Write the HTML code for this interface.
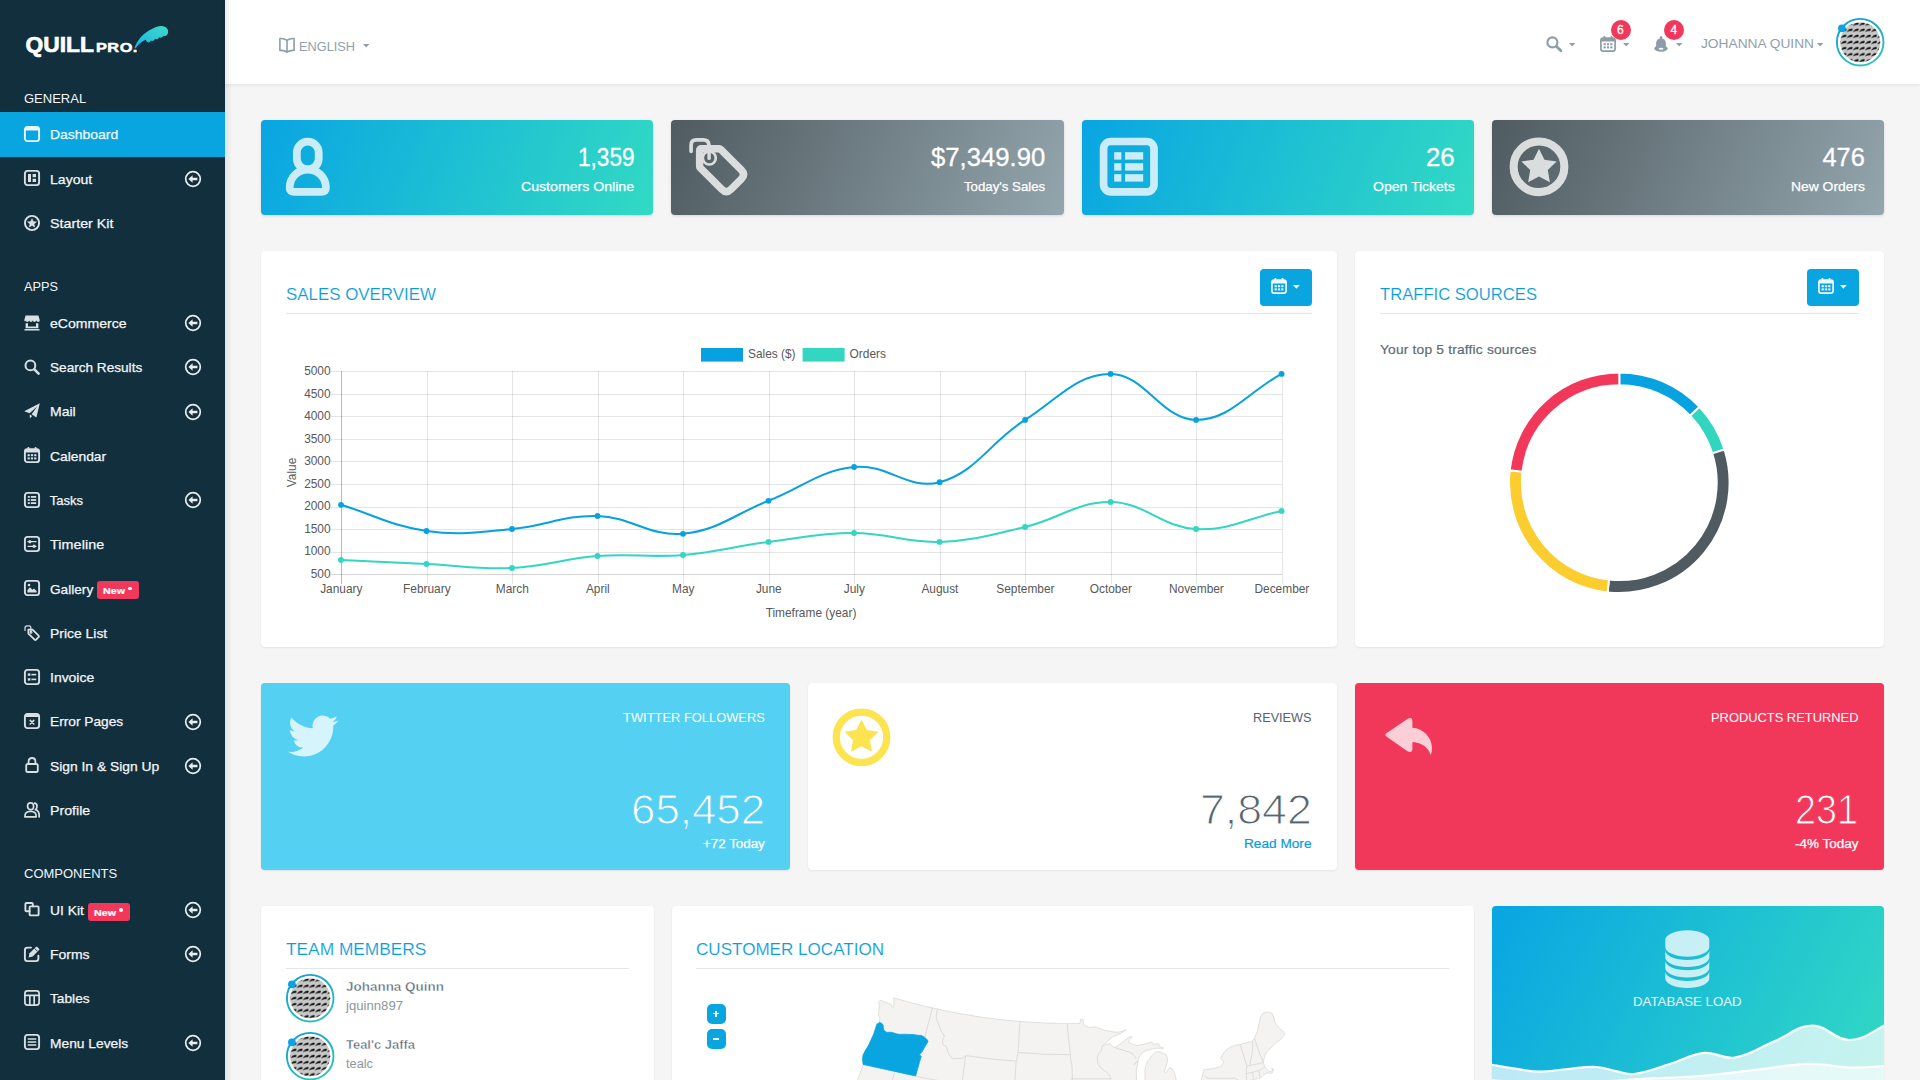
<!DOCTYPE html>
<html lang="en"><head><meta charset="utf-8"><title>QuillPro Dashboard</title>
<style>
html,body{margin:0;padding:0;}
body{width:1920px;height:1080px;overflow:hidden;position:relative;background:#f5f5f5;
font-family:"Liberation Sans",sans-serif;}
#root{position:absolute;left:0;top:0;width:1920px;height:1080px;overflow:hidden;}
.t{position:absolute;white-space:nowrap;transform-origin:0 50%;}
svg{display:block;overflow:visible;}
svg text{font-family:"Liberation Sans",sans-serif;}
</style></head><body><div id="root">
<div class="" style="position:absolute;left:0px;top:0px;width:225px;height:1080px;background:#122f3e;"></div>
<div class="t" style="left:25.6px;top:27px;font-size:22.8px;line-height:34px;color:#fff;font-weight:700;-webkit-text-stroke-width:0.7px;">QUILL</div>
<div class="t" style="left: 95.6px; top: 38px; font-size: 13.4px; line-height: 20px; color: rgb(255, 255, 255); font-weight: 700; -webkit-text-stroke-width: 0.5px; letter-spacing: 0.39px; transform: scaleX(1.22);">PRO.</div>
<svg style="position:absolute;left:133px;top:24px;" width="38" height="30" viewBox="0 0 38 30"><defs><linearGradient id="fg" x1="0" y1="1" x2="1" y2="0"><stop offset="0" stop-color="#1cb2e4"></stop><stop offset="1" stop-color="#3cdcc8"></stop></linearGradient></defs><path fill="url(#fg)" d="M1.6 23.9C3.5 17.5 9 10.5 16 6.5C21 3.6 26 1.6 30 2.2C34.5 2.8 36.2 7 34.6 10C33.8 11.8 32 12.6 30.2 11.8C29.8 13.4 27.6 14.2 26.2 13.2C25.6 15 23.4 15.8 22 14.8C21.4 16.8 19.2 17.6 17.8 16.6C17.2 18.4 15.4 19 13.8 17.8C13.2 17 13 16.4 13 15.6C8.6 17.6 5 20.4 2.6 24.4Z"></path></svg>
<div class="t" style="left:24.0px;top:89px;font-size:13px;line-height:20px;color:#f2f5f6;font-weight:400;">GENERAL</div>
<div class="t" style="left: 24px; top: 277px; font-size: 13px; line-height: 20px; color: rgb(242, 245, 246); font-weight: 400; transform: scaleX(0.98);">APPS</div>
<div class="t" style="left:24.0px;top:864px;font-size:13px;line-height:20px;color:#f2f5f6;font-weight:400;">COMPONENTS</div>
<div class="" style="position:absolute;left:0px;top:112.4px;width:225px;height:44.900000000000006px;background:#09a5e1;"></div>
<svg style="position:absolute;left:22.8px;top:125.1px;" width="18" height="18" viewBox="0 0 18 18"><g fill="none" stroke="#eaf7fd" stroke-width="1.9" stroke-linejoin="round"><rect x="1.9" y="1.9" width="14.2" height="14.2" rx="2.6"></rect></g><path d="M1.9 5.4V4.5Q1.9 1.9 4.5 1.9H13.5Q16.1 1.9 16.1 4.5V5.4Z" fill="#eaf7fd"></path></svg>
<div class="t" style="left: 49.8px; top: 125px; font-size: 13px; line-height: 20px; color: rgb(242, 245, 246); font-weight: 400; -webkit-text-stroke-width: 0.25px; transform: scaleX(1.072);">Dashboard</div>
<svg style="position:absolute;left:22.8px;top:169.3px;" width="18" height="18" viewBox="0 0 18 18"><g fill="none" stroke="#d9e0e4" stroke-width="1.9" stroke-linecap="round" stroke-linejoin="round"><rect x="1.9" y="1.9" width="14.2" height="14.2" rx="2.6"></rect></g><g fill="#d9e0e4" stroke="none"><rect x="5" y="5" width="3" height="8"></rect><rect x="9.6" y="5" width="3.4" height="3.2"></rect><rect x="9.6" y="9.8" width="3.4" height="3.2"></rect></g></svg>
<div class="t" style="left: 49.8px; top: 170px; font-size: 13px; line-height: 20px; color: rgb(242, 245, 246); font-weight: 400; -webkit-text-stroke-width: 0.25px; transform: scaleX(1.081);">Layout</div>
<svg style="position:absolute;left:183.8px;top:169.9px;" width="18" height="18" viewBox="0 0 18 18"><circle cx="9" cy="9" r="7.3" fill="none" stroke="#e8edef" stroke-width="1.7"></circle><path d="M4.4 9L8.6 5.2V7.7H13.4V10.3H8.6V12.8Z" fill="#e8edef"></path></svg>
<svg style="position:absolute;left:22.8px;top:213.6px;" width="18" height="18" viewBox="0 0 18 18"><g fill="none" stroke="#d9e0e4" stroke-width="1.9" stroke-linecap="round" stroke-linejoin="round"><circle cx="9" cy="9" r="7.1"></circle></g><path d="M9.00 4.70L10.23 7.60L13.37 7.88L11.00 9.95L11.70 13.02L9.00 11.40L6.30 13.02L7.00 9.95L4.63 7.88L7.77 7.60Z" fill="#d9e0e4" stroke="#d9e0e4" stroke-width="0.6" stroke-linejoin="round"></path></svg>
<div class="t" style="left: 49.8px; top: 214px; font-size: 13px; line-height: 20px; color: rgb(242, 245, 246); font-weight: 400; -webkit-text-stroke-width: 0.25px; transform: scaleX(1.099);">Starter Kit</div>
<svg style="position:absolute;left:22.8px;top:313.5px;" width="18" height="18" viewBox="0 0 18 18"><g fill="#d9e0e4" stroke="none"><path d="M2.6 1.6H15.4L16.8 6.2Q16.8 8 15.1 8Q13.6 8 13.3 6.6Q13 8 11.5 8Q10 8 9.7 6.6Q9.3 8 7.9 8Q6.4 8 6.1 6.6Q5.7 8 4.3 8Q2.7 8 2.4 6.6Q2 8 1.2 6.2Z"></path><path d="M2.6 9.2H5V12.6H13V9.2H15.4V14.2H2.6Z"></path><rect x="1.4" y="15" width="15.2" height="1.6" rx="0.4"></rect></g></svg>
<div class="t" style="left: 49.8px; top: 314px; font-size: 13px; line-height: 20px; color: rgb(242, 245, 246); font-weight: 400; -webkit-text-stroke-width: 0.25px; transform: scaleX(1.083);">eCommerce</div>
<svg style="position:absolute;left:183.8px;top:314.1px;" width="18" height="18" viewBox="0 0 18 18"><circle cx="9" cy="9" r="7.3" fill="none" stroke="#e8edef" stroke-width="1.7"></circle><path d="M4.4 9L8.6 5.2V7.7H13.4V10.3H8.6V12.8Z" fill="#e8edef"></path></svg>
<svg style="position:absolute;left:22.8px;top:357.8px;" width="18" height="18" viewBox="0 0 18 18"><circle cx="7.4" cy="7.4" r="4.9" fill="none" stroke="#d9e0e4" stroke-width="2"></circle><path d="M11.4 11.4L15.6 15.6" stroke="#d9e0e4" stroke-width="2.6" stroke-linecap="round"></path></svg>
<div class="t" style="left: 49.8px; top: 358px; font-size: 13px; line-height: 20px; color: rgb(242, 245, 246); font-weight: 400; -webkit-text-stroke-width: 0.25px; transform: scaleX(1.046);">Search Results</div>
<svg style="position:absolute;left:183.8px;top:358.4px;" width="18" height="18" viewBox="0 0 18 18"><circle cx="9" cy="9" r="7.3" fill="none" stroke="#e8edef" stroke-width="1.7"></circle><path d="M4.4 9L8.6 5.2V7.7H13.4V10.3H8.6V12.8Z" fill="#e8edef"></path></svg>
<svg style="position:absolute;left:22.8px;top:402.1px;" width="18" height="18" viewBox="0 0 18 18"><g fill="#d9e0e4" stroke="none"><path d="M16.8 1.2L13.4 15.4L8.6 12.2L14.2 4.6L6.6 11.2L1.2 9.2Z"></path><path d="M6.8 12.4L9.2 14L6.8 16.6Z"></path></g></svg>
<div class="t" style="left: 49.8px; top: 402px; font-size: 13px; line-height: 20px; color: rgb(242, 245, 246); font-weight: 400; -webkit-text-stroke-width: 0.25px; transform: scaleX(1.078);">Mail</div>
<svg style="position:absolute;left:183.8px;top:402.7px;" width="18" height="18" viewBox="0 0 18 18"><circle cx="9" cy="9" r="7.3" fill="none" stroke="#e8edef" stroke-width="1.7"></circle><path d="M4.4 9L8.6 5.2V7.7H13.4V10.3H8.6V12.8Z" fill="#e8edef"></path></svg>
<svg style="position:absolute;left:22.8px;top:446.4px;" width="18" height="18" viewBox="0 0 18 18"><g fill="none" stroke="#d9e0e4" stroke-width="1.9" stroke-linecap="round" stroke-linejoin="round"><rect x="1.9" y="3.2" width="14.2" height="12.9" rx="2.4"></rect></g><g fill="#d9e0e4" stroke="none"><path d="M1.9 6.6V5.4Q1.9 3.2 4.3 3.2H13.7Q16.1 3.2 16.1 5.4V6.6Z"></path><rect x="4.6" y="1" width="1.7" height="3" rx="0.6"></rect><rect x="11.7" y="1" width="1.7" height="3" rx="0.6"></rect><rect x="4.6" y="8.2" width="2.2" height="2"></rect><rect x="7.9" y="8.2" width="2.2" height="2"></rect><rect x="11.2" y="8.2" width="2.2" height="2"></rect><rect x="4.6" y="11.4" width="2.2" height="2"></rect><rect x="7.9" y="11.4" width="2.2" height="2"></rect><rect x="11.2" y="11.4" width="2.2" height="2"></rect></g></svg>
<div class="t" style="left: 49.8px; top: 447px; font-size: 13px; line-height: 20px; color: rgb(242, 245, 246); font-weight: 400; -webkit-text-stroke-width: 0.25px; transform: scaleX(1.065);">Calendar</div>
<svg style="position:absolute;left:22.8px;top:490.7px;" width="18" height="18" viewBox="0 0 18 18"><g fill="none" stroke="#d9e0e4" stroke-width="1.9" stroke-linecap="round" stroke-linejoin="round"><rect x="1.9" y="1.9" width="14.2" height="14.2" rx="2.6"></rect></g><g fill="#d9e0e4" stroke="none"><rect x="4.8" y="5" width="2" height="1.8"></rect><rect x="7.8" y="5" width="5.4" height="1.8"></rect><rect x="4.8" y="8.1" width="2" height="1.8"></rect><rect x="7.8" y="8.1" width="5.4" height="1.8"></rect><rect x="4.8" y="11.2" width="2" height="1.8"></rect><rect x="7.8" y="11.2" width="5.4" height="1.8"></rect></g></svg>
<div class="t" style="left:49.8px;top:491px;font-size:13px;line-height:20px;color:#f2f5f6;font-weight:400;-webkit-text-stroke-width:0.25px;">Tasks</div>
<svg style="position:absolute;left:183.8px;top:491.2px;" width="18" height="18" viewBox="0 0 18 18"><circle cx="9" cy="9" r="7.3" fill="none" stroke="#e8edef" stroke-width="1.7"></circle><path d="M4.4 9L8.6 5.2V7.7H13.4V10.3H8.6V12.8Z" fill="#e8edef"></path></svg>
<svg style="position:absolute;left:22.8px;top:534.9px;" width="18" height="18" viewBox="0 0 18 18"><g fill="none" stroke="#d9e0e4" stroke-width="1.9" stroke-linecap="round" stroke-linejoin="round"><rect x="1.9" y="1.9" width="14.2" height="14.2" rx="2.6"></rect></g><g fill="none" stroke="#d9e0e4" stroke-width="1.3" stroke-linecap="round" stroke-linejoin="round"><path d="M5 6.7H13M5 11.3H13"></path></g><g fill="#d9e0e4" stroke="none"><rect x="5.6" y="5.2" width="2.6" height="3" rx="0.6"></rect><rect x="9.8" y="9.8" width="2.6" height="3" rx="0.6"></rect></g></svg>
<div class="t" style="left: 49.8px; top: 535px; font-size: 13px; line-height: 20px; color: rgb(242, 245, 246); font-weight: 400; -webkit-text-stroke-width: 0.25px; letter-spacing: 0.09px; transform: scaleX(1.1);">Timeline</div>
<svg style="position:absolute;left:22.8px;top:579.2px;" width="18" height="18" viewBox="0 0 18 18"><g fill="none" stroke="#d9e0e4" stroke-width="1.9" stroke-linecap="round" stroke-linejoin="round"><rect x="1.9" y="1.9" width="14.2" height="14.2" rx="2.6"></rect></g><g fill="#d9e0e4" stroke="none"><path d="M4.4 13.4V11L7 8.2L9.4 10.8L11 9.4L13.6 12V13.4Z"></path><circle cx="6" cy="6" r="1.3"></circle></g></svg>
<div class="t" style="left: 49.8px; top: 580px; font-size: 13px; line-height: 20px; color: rgb(242, 245, 246); font-weight: 400; -webkit-text-stroke-width: 0.25px; transform: scaleX(1.049);">Gallery</div>
<svg style="position:absolute;left:22.8px;top:623.5px;" width="18" height="18" viewBox="0 0 18 18"><g fill="none" stroke="#d9e0e4" stroke-width="1.8" stroke-linecap="round" stroke-linejoin="round"><path d="M5.4 5.6H9.6L15.6 11.6Q16.3 12.4 15.6 13.1L13.1 15.6Q12.3 16.3 11.6 15.6L5.4 9.6Z"></path></g><g fill="none" stroke="#d9e0e4" stroke-width="1.2" stroke-linecap="round" stroke-linejoin="round"><circle cx="8" cy="8.2" r="0.9"></circle><path d="M2 6.4V4Q2 1.9 4.2 1.9H6.4Q7.6 2 7.8 3.4L8 7.6"></path></g></svg>
<div class="t" style="left: 49.8px; top: 624px; font-size: 13px; line-height: 20px; color: rgb(242, 245, 246); font-weight: 400; -webkit-text-stroke-width: 0.25px; transform: scaleX(1.07);">Price List</div>
<svg style="position:absolute;left:22.8px;top:667.8px;" width="18" height="18" viewBox="0 0 18 18"><g fill="none" stroke="#d9e0e4" stroke-width="1.9" stroke-linecap="round" stroke-linejoin="round"><rect x="1.9" y="1.9" width="14.2" height="14.2" rx="2.6"></rect></g><g fill="#d9e0e4" stroke="none"><rect x="4.8" y="5.4" width="2.6" height="2.4"></rect><rect x="8.4" y="5.8" width="4.8" height="1.6"></rect><rect x="4.8" y="10.2" width="2.6" height="2.4"></rect><rect x="8.4" y="10.6" width="4.8" height="1.6"></rect></g></svg>
<div class="t" style="left: 49.8px; top: 668px; font-size: 13px; line-height: 20px; color: rgb(242, 245, 246); font-weight: 400; -webkit-text-stroke-width: 0.25px; transform: scaleX(1.073);">Invoice</div>
<svg style="position:absolute;left:22.8px;top:712.1px;" width="18" height="18" viewBox="0 0 18 18"><g fill="none" stroke="#d9e0e4" stroke-width="1.9" stroke-linecap="round" stroke-linejoin="round"><rect x="1.9" y="1.9" width="14.2" height="14.2" rx="2.6"></rect></g><g fill="#d9e0e4" stroke="none"><path d="M1.9 4.9V4.5Q1.9 1.9 4.5 1.9H13.5Q16.1 1.9 16.1 4.5V4.9Z"></path></g><g fill="none" stroke="#d9e0e4" stroke-width="1.6" stroke-linecap="round" stroke-linejoin="round"><path d="M7.2 8.4L10.8 12M10.8 8.4L7.2 12"></path></g></svg>
<div class="t" style="left: 49.8px; top: 712px; font-size: 13px; line-height: 20px; color: rgb(242, 245, 246); font-weight: 400; -webkit-text-stroke-width: 0.25px; transform: scaleX(1.055);">Error Pages</div>
<svg style="position:absolute;left:183.8px;top:712.6px;" width="18" height="18" viewBox="0 0 18 18"><circle cx="9" cy="9" r="7.3" fill="none" stroke="#e8edef" stroke-width="1.7"></circle><path d="M4.4 9L8.6 5.2V7.7H13.4V10.3H8.6V12.8Z" fill="#e8edef"></path></svg>
<svg style="position:absolute;left:22.8px;top:756.4px;" width="18" height="18" viewBox="0 0 18 18"><g fill="none" stroke="#d9e0e4" stroke-width="1.8" stroke-linecap="round" stroke-linejoin="round"><rect x="3.2" y="8" width="11.6" height="8" rx="1.6"></rect><path d="M5.6 8V5.4Q5.6 2 9 2Q12.4 2 12.4 5.4V8"></path></g></svg>
<div class="t" style="left: 49.8px; top: 757px; font-size: 13px; line-height: 20px; color: rgb(242, 245, 246); font-weight: 400; -webkit-text-stroke-width: 0.25px; transform: scaleX(1.064);">Sign In &amp; Sign Up</div>
<svg style="position:absolute;left:183.8px;top:756.9px;" width="18" height="18" viewBox="0 0 18 18"><circle cx="9" cy="9" r="7.3" fill="none" stroke="#e8edef" stroke-width="1.7"></circle><path d="M4.4 9L8.6 5.2V7.7H13.4V10.3H8.6V12.8Z" fill="#e8edef"></path></svg>
<svg style="position:absolute;left:22.8px;top:800.6px;" width="18" height="18" viewBox="0 0 18 18"><g fill="none" stroke="#d9e0e4" stroke-width="1.7" stroke-linecap="round" stroke-linejoin="round"><path d="M7.6 1.9Q10.6 1.9 10.6 5.2Q10.6 8.6 7.6 8.6Q4.6 8.6 4.6 5.2Q4.6 1.9 7.6 1.9Z"></path><path d="M1.9 15.9Q1.6 10.2 7.6 10.4Q13.4 10.2 13.2 15.9Z"></path><path d="M11.6 2.2Q14.2 2.6 14 5.6Q13.8 8 12.4 8.6Q16.6 9.6 16.2 15.9"></path></g></svg>
<div class="t" style="left: 49.8px; top: 801px; font-size: 13px; line-height: 20px; color: rgb(242, 245, 246); font-weight: 400; -webkit-text-stroke-width: 0.25px; transform: scaleX(1.091);">Profile</div>
<svg style="position:absolute;left:22.8px;top:900.4px;" width="18" height="18" viewBox="0 0 18 18"><g fill="none" stroke="#d9e0e4" stroke-width="1.9" stroke-linecap="round" stroke-linejoin="round"><path d="M6.6 11.2H3.4Q2.4 11.2 2.4 10.2V4Q2.4 3 3.4 3H8.8Q9.8 3 9.8 4V6.4"></path><rect x="6.6" y="6.4" width="9" height="9" rx="1"></rect></g></svg>
<div class="t" style="left: 49.8px; top: 901px; font-size: 13px; line-height: 20px; color: rgb(242, 245, 246); font-weight: 400; -webkit-text-stroke-width: 0.25px; transform: scaleX(1.063);">UI Kit</div>
<svg style="position:absolute;left:183.8px;top:900.9px;" width="18" height="18" viewBox="0 0 18 18"><circle cx="9" cy="9" r="7.3" fill="none" stroke="#e8edef" stroke-width="1.7"></circle><path d="M4.4 9L8.6 5.2V7.7H13.4V10.3H8.6V12.8Z" fill="#e8edef"></path></svg>
<svg style="position:absolute;left:22.8px;top:944.6px;" width="18" height="18" viewBox="0 0 18 18"><g fill="none" stroke="#d9e0e4" stroke-width="1.9" stroke-linecap="round" stroke-linejoin="round"><path d="M8 2.6H4.5Q1.9 2.6 1.9 5.2V13.5Q1.9 16.1 4.5 16.1H12.8Q15.4 16.1 15.4 13.5V10.6"></path></g><path d="M5.6 12.4L6.5 8.3L12.9 1.9Q13.6 1.3 14.3 1.9L16.1 3.7Q16.7 4.4 16.1 5.1L9.7 11.5Z" fill="#d9e0e4"></path><path d="M11.6 3.4L14.6 6.4" stroke="#122f3e" stroke-width="0.9"></path></svg>
<div class="t" style="left: 49.8px; top: 945px; font-size: 13px; line-height: 20px; color: rgb(242, 245, 246); font-weight: 400; -webkit-text-stroke-width: 0.25px; transform: scaleX(1.075);">Forms</div>
<svg style="position:absolute;left:183.8px;top:945.2px;" width="18" height="18" viewBox="0 0 18 18"><circle cx="9" cy="9" r="7.3" fill="none" stroke="#e8edef" stroke-width="1.7"></circle><path d="M4.4 9L8.6 5.2V7.7H13.4V10.3H8.6V12.8Z" fill="#e8edef"></path></svg>
<svg style="position:absolute;left:22.8px;top:988.9px;" width="18" height="18" viewBox="0 0 18 18"><g fill="none" stroke="#d9e0e4" stroke-width="1.7" stroke-linecap="round" stroke-linejoin="round"><rect x="1.9" y="1.9" width="14.2" height="14.2" rx="2.6"></rect><path d="M1.9 6.4H16.1M6.8 6.4V16.1M11.2 6.4V16.1"></path></g></svg>
<div class="t" style="left: 49.8px; top: 989px; font-size: 13px; line-height: 20px; color: rgb(242, 245, 246); font-weight: 400; -webkit-text-stroke-width: 0.25px; transform: scaleX(1.054);">Tables</div>
<svg style="position:absolute;left:22.8px;top:1033.2px;" width="18" height="18" viewBox="0 0 18 18"><g fill="none" stroke="#d9e0e4" stroke-width="1.9" stroke-linecap="round" stroke-linejoin="round"><rect x="1.9" y="1.9" width="14.2" height="14.2" rx="2.6"></rect></g><g fill="none" stroke="#d9e0e4" stroke-width="1.4" stroke-linecap="round" stroke-linejoin="round"><path d="M5.2 6H12.8M5.2 9H12.8M5.2 12H12.8"></path></g></svg>
<div class="t" style="left: 49.8px; top: 1034px; font-size: 13px; line-height: 20px; color: rgb(242, 245, 246); font-weight: 400; -webkit-text-stroke-width: 0.25px; transform: scaleX(1.061);">Menu Levels</div>
<svg style="position:absolute;left:183.8px;top:1033.7px;" width="18" height="18" viewBox="0 0 18 18"><circle cx="9" cy="9" r="7.3" fill="none" stroke="#e8edef" stroke-width="1.7"></circle><path d="M4.4 9L8.6 5.2V7.7H13.4V10.3H8.6V12.8Z" fill="#e8edef"></path></svg>
<div class="" style="position:absolute;left:97px;top:581px;width:41.5px;height:18px;background:#f2385a;border-radius:3px;"></div>
<div class="t" style="left: 103px; top: 584px; font-size: 9.2px; line-height: 14px; color: rgb(255, 255, 255); font-weight: 700; -webkit-text-stroke-width: 0.2px; transform: scaleX(1.164);">New</div>
<div class="" style="position:absolute;left:128.1px;top:586.5px;width:3.8000000000000114px;height:3.7999999999999545px;background:#fff;border-radius:50%;"></div>
<div class="" style="position:absolute;left:88px;top:903px;width:41.5px;height:17.5px;background:#f2385a;border-radius:3px;"></div>
<div class="t" style="left: 94px; top: 906px; font-size: 9.2px; line-height: 14px; color: rgb(255, 255, 255); font-weight: 700; -webkit-text-stroke-width: 0.2px; transform: scaleX(1.164);">New</div>
<div class="" style="position:absolute;left:119.1px;top:908.25px;width:3.8000000000000114px;height:3.7999999999999545px;background:#fff;border-radius:50%;"></div>
<div class="" style="position:absolute;left:225px;top:0px;width:1695px;height:1080px;background:#f5f5f5;"></div>
<div class="" style="position:absolute;left:225px;top:0px;width:1695px;height:84px;background:#fff;box-shadow:0 1px 4px rgba(0,0,0,0.08);"></div>
<div class="" style="position:absolute;left:225px;top:0px;width:7px;height:1080px;background:linear-gradient(90deg,rgba(0,0,0,0.075),rgba(0,0,0,0));"></div>
<svg style="position:absolute;left:278px;top:36px;" width="18" height="18" viewBox="0 0 18 18"><g fill="none" stroke="#8c9da7" stroke-width="1.6" stroke-linecap="round" stroke-linejoin="round"><path d="M9 4.4Q6 2.2 1.9 2.6V14.4Q6 14 9 16.2Q12 14 16.1 14.4V2.6Q12 2.2 9 4.4ZM9 4.4V16"></path></g></svg>
<div class="t" style="left: 299px; top: 38px; font-size: 12.6px; line-height: 19px; color: rgb(144, 160, 170); font-weight: 400; transform: scaleX(1.013);">ENGLISH</div>
<svg style="position:absolute;left:362.8px;top:44.3px;" width="6.4" height="3.4" viewBox="0 0 6.4 3.4"><path d="M0 0H6.4L3.2 3.4Z" fill="#90a0aa"></path></svg>
<svg style="position:absolute;left:1545px;top:35px;" width="18" height="18" viewBox="0 0 18 18"><circle cx="7.4" cy="7.4" r="5" fill="none" stroke="#8c9da7" stroke-width="2.1"></circle><path d="M11.6 11.6L15.8 15.8" stroke="#8c9da7" stroke-width="2.8" stroke-linecap="round"></path></svg>
<svg style="position:absolute;left:1568.8px;top:43.0px;" width="6.4" height="3.4" viewBox="0 0 6.4 3.4"><path d="M0 0H6.4L3.2 3.4Z" fill="#90a0aa"></path></svg>
<svg style="position:absolute;left:1598.5px;top:35px;" width="18" height="18" viewBox="0 0 18 18"><g fill="none" stroke="#8c9da7" stroke-width="1.7" stroke-linecap="round" stroke-linejoin="round"><rect x="1.9" y="3.2" width="14.2" height="12.9" rx="2.4"></rect></g><g fill="#8c9da7" stroke="none"><path d="M1.9 6.4V5.4Q1.9 3.2 4.3 3.2H13.7Q16.1 3.2 16.1 5.4V6.4Z"></path><rect x="4.6" y="1" width="1.7" height="3" rx="0.6"></rect><rect x="11.7" y="1" width="1.7" height="3" rx="0.6"></rect><rect x="4.6" y="8.2" width="2.2" height="2"></rect><rect x="7.9" y="8.2" width="2.2" height="2"></rect><rect x="11.2" y="8.2" width="2.2" height="2"></rect><rect x="4.6" y="11.4" width="2.2" height="2"></rect><rect x="7.9" y="11.4" width="2.2" height="2"></rect><rect x="11.2" y="11.4" width="2.2" height="2"></rect></g></svg>
<svg style="position:absolute;left:1622.8px;top:43.0px;" width="6.4" height="3.4" viewBox="0 0 6.4 3.4"><path d="M0 0H6.4L3.2 3.4Z" fill="#90a0aa"></path></svg>
<svg style="position:absolute;left:1652px;top:35px;" width="18" height="18" viewBox="0 0 18 18"><g fill="#8c9da7" stroke="none"><circle cx="9" cy="2.7" r="1.4"></circle><path d="M4.1 13V8.6Q4.1 3.4 9 3.4Q13.9 3.4 13.9 8.6V13Z"></path><ellipse cx="9" cy="13.5" rx="6.7" ry="3.3"></ellipse></g><ellipse cx="9" cy="13.7" rx="2.4" ry="0.95" fill="#fff"></ellipse></svg>
<svg style="position:absolute;left:1676.3px;top:43.0px;" width="6.4" height="3.4" viewBox="0 0 6.4 3.4"><path d="M0 0H6.4L3.2 3.4Z" fill="#90a0aa"></path></svg>
<div class="" style="position:absolute;left:1610.5px;top:19.9px;width:20.0px;height:20.0px;background:#f2385a;border-radius:50%;"></div>
<div class="t" style="left:1617.0px;top:21px;font-size:12px;line-height:18px;color:#fff;font-weight:400;-webkit-text-stroke-width:0.3px;">6</div>
<div class="" style="position:absolute;left:1664px;top:19.9px;width:20px;height:20.0px;background:#f2385a;border-radius:50%;"></div>
<div class="t" style="left:1670.5px;top:21px;font-size:12px;line-height:18px;color:#fff;font-weight:400;-webkit-text-stroke-width:0.3px;">4</div>
<div class="t" style="left: 1700.5px; top: 35px; font-size: 12.6px; line-height: 19px; color: rgb(144, 160, 170); font-weight: 400; transform: scaleX(1.091);">JOHANNA QUINN</div>
<svg style="position:absolute;left:1817.3px;top:42.9px;" width="6.4" height="3.4" viewBox="0 0 6.4 3.4"><path d="M0 0H6.4L3.2 3.4Z" fill="#90a0aa"></path></svg>
<svg style="position:absolute;left:1835.8px;top:17.7px;" width="48.4" height="48.4" viewBox="0 0 48.4 48.4"><defs><linearGradient id="rga" x1="0.2" y1="0" x2="0.8" y2="1"><stop offset="0" stop-color="#109fd6"></stop><stop offset="1" stop-color="#2cc6b8"></stop></linearGradient><pattern id="pta" width="6.11" height="6.11" patternUnits="userSpaceOnUse" patternTransform="translate(4.49 3.10)"><path d="M0.4 4.6C1.2 3.0 3.0 1.6 5.5 1.6C5.9 2.3 5.7 3.1 5.1 3.5C3.6 3.4 1.9 3.8 0.4 4.6Z" fill="#141414" stroke="#141414" stroke-width="0.35"></path></pattern><clipPath id="cpa"><circle cx="24.2" cy="24.2" r="20"></circle></clipPath></defs><circle cx="24.2" cy="24.2" r="23.3" fill="#fff" stroke="url(#rga)" stroke-width="1.9"></circle><circle cx="24.2" cy="24.2" r="20" fill="#c7c7c7"></circle><rect x="0" y="0" width="48.4" height="48.4" fill="url(#pta)" clip-path="url(#cpa)"></rect><circle cx="5.9" cy="10.3" r="3.9" fill="#0ba2e6"></circle></svg>
<div class="" style="position:absolute;left:261px;top:120px;width:392px;height:94.5px;background:linear-gradient(112deg,#08a5e3 0%,#32dac3 100%);border-radius:4px;box-shadow:0 1px 3px rgba(0,0,0,0.12);"></div>
<svg style="position:absolute;left:278px;top:137px;" width="60" height="60" viewBox="0 0 60 60"><g opacity="0.78"><g fill="none" stroke="#fff" stroke-width="7.8" stroke-linejoin="round"><path d="M18.85 15.2A10.93 10.93 0 0 1 40.7 15.2V21.8A10.93 10.93 0 0 1 18.85 21.8Z"></path><path d="M11.7 50.6A18.1 18.1 0 0 1 47.9 50.6Q48.1 54.9 43.3 54.9H16.3Q11.5 54.9 11.7 50.6Z"></path></g></g></svg>
<div class="t" style="left: 577.5px; top: 140px; font-size: 25.4px; line-height: 34px; color: rgb(255, 255, 255); font-weight: 400; -webkit-text-stroke-width: 0.3px; transform: scaleX(0.889);">1,359</div>
<div class="t" style="left: 521px; top: 177px; font-size: 13px; line-height: 20px; color: rgb(255, 255, 255); font-weight: 400; -webkit-text-stroke-width: 0.25px; transform: scaleX(1.086);">Customers Online</div>
<div class="" style="position:absolute;left:671.3px;top:120px;width:392.4000000000001px;height:94.5px;background:linear-gradient(112deg,#4f5b60 0%,#93a5ad 100%);border-radius:4px;box-shadow:0 1px 3px rgba(0,0,0,0.12);"></div>
<svg style="position:absolute;left:688px;top:137px;" width="60" height="60" viewBox="0 0 60 60"><g opacity="0.78"><g fill="none" stroke="#fff" stroke-linejoin="round" stroke-linecap="round"><path stroke-width="7.4" d="M11.60 13.90Q11.60 11.70 13.80 11.70L31.01 11.70Q32.00 11.70 32.70 12.40L53.27 32.97Q57.80 37.50 53.27 42.03L42.92 52.38Q38.40 56.90 33.87 52.39L12.31 30.87Q11.60 30.17 11.60 29.17Z"></path><circle cx="21.3" cy="21" r="6.5" stroke-width="2.7"></circle><path stroke-width="3.4" d="M21.1 9V21.4"></path><path stroke-width="3.7" d="M3.1 14.3V8Q3.1 2.8 8.3 2.8H15.5Q20.4 2.8 20.8 7.4L21.1 12"></path></g></g></svg>
<div class="t" style="left: 930.5px; top: 140px; font-size: 25.4px; line-height: 34px; color: rgb(255, 255, 255); font-weight: 400; -webkit-text-stroke-width: 0.3px; transform: scaleX(1.011);">$7,349.90</div>
<div class="t" style="left: 963.5px; top: 177px; font-size: 13px; line-height: 20px; color: rgb(255, 255, 255); font-weight: 400; -webkit-text-stroke-width: 0.25px; transform: scaleX(1.017);">Today's Sales</div>
<div class="" style="position:absolute;left:1081.6px;top:120px;width:392.10000000000014px;height:94.5px;background:linear-gradient(112deg,#08a5e3 0%,#32dac3 100%);border-radius:4px;box-shadow:0 1px 3px rgba(0,0,0,0.12);"></div>
<svg style="position:absolute;left:1098.5px;top:137px;" width="60" height="60" viewBox="0 0 60 60"><g opacity="0.78"><rect x="4.6" y="4.5" width="50.4" height="50.3" rx="7.2" fill="none" stroke="#fff" stroke-width="7.7"></rect><g fill="#fff"><rect x="15.2" y="15.2" width="7.2" height="7.4"></rect><rect x="26" y="15.2" width="18.2" height="7.4"></rect><rect x="15.2" y="26.2" width="7.2" height="7.4"></rect><rect x="26" y="26.2" width="18.2" height="7.4"></rect><rect x="15.2" y="37.2" width="7.2" height="7.4"></rect><rect x="26" y="37.2" width="18.2" height="7.4"></rect></g></g></svg>
<div class="t" style="left: 1426px; top: 140px; font-size: 25.4px; line-height: 34px; color: rgb(255, 255, 255); font-weight: 400; -webkit-text-stroke-width: 0.3px; transform: scaleX(1.016);">26</div>
<div class="t" style="left: 1373px; top: 177px; font-size: 13px; line-height: 20px; color: rgb(255, 255, 255); font-weight: 400; -webkit-text-stroke-width: 0.25px; transform: scaleX(1.077);">Open Tickets</div>
<div class="" style="position:absolute;left:1492px;top:120px;width:392px;height:94.5px;background:linear-gradient(112deg,#4f5b60 0%,#93a5ad 100%);border-radius:4px;box-shadow:0 1px 3px rgba(0,0,0,0.12);"></div>
<svg style="position:absolute;left:1508.5px;top:137px;" width="60" height="60" viewBox="0 0 60 60"><g opacity="0.78"><circle cx="30" cy="29.8" r="25.35" fill="none" stroke="#fff" stroke-width="8.1"></circle><path d="M30.00 11.70L35.44 22.72L47.59 24.48L38.80 33.06L40.87 45.17L30.00 39.45L19.13 45.17L21.20 33.06L12.41 24.48L24.56 22.72Z" fill="#fff"></path></g></svg>
<div class="t" style="left:1822.5px;top:140px;font-size:25.4px;line-height:34px;color:#fff;font-weight:400;-webkit-text-stroke-width:0.3px;">476</div>
<div class="t" style="left: 1791px; top: 177px; font-size: 13px; line-height: 20px; color: rgb(255, 255, 255); font-weight: 400; -webkit-text-stroke-width: 0.25px; transform: scaleX(1.067);">New Orders</div>
<div class="" style="position:absolute;left:261px;top:251px;width:1076px;height:396px;background:#fff;border-radius:4px;box-shadow:0 1px 2px rgba(0,0,0,0.07),0 0 1px rgba(0,0,0,0.05);"></div>
<div class="t" style="left: 286px; top: 282px; font-size: 16.4px; line-height: 25px; color: rgb(10, 156, 216); font-weight: 400; -webkit-text-stroke: 0.15px rgb(255, 255, 255); transform: scaleX(1.031);">SALES OVERVIEW</div>
<div class="" style="position:absolute;left:286px;top:313px;width:1026px;height:1px;background:#e5e6e7;"></div>
<div class="" style="position:absolute;left:1259.5px;top:269px;width:52.5px;height:37px;background:#09a5e1;border-radius:4px;"></div>
<svg style="position:absolute;left:1269.9px;top:276.7px;" width="18" height="18" viewBox="0 0 18 18"><g fill="none" stroke="#eef9fe" stroke-width="1.7" stroke-linecap="round" stroke-linejoin="round"><rect x="1.9" y="3.2" width="14.2" height="12.9" rx="2.4"></rect></g><g fill="#eef9fe" stroke="none"><path d="M1.9 6.4V5.4Q1.9 3.2 4.3 3.2H13.7Q16.1 3.2 16.1 5.4V6.4Z"></path><rect x="4.6" y="1" width="1.7" height="3" rx="0.6"></rect><rect x="11.7" y="1" width="1.7" height="3" rx="0.6"></rect><rect x="4.6" y="8.2" width="2.2" height="2"></rect><rect x="7.9" y="8.2" width="2.2" height="2"></rect><rect x="11.2" y="8.2" width="2.2" height="2"></rect><rect x="4.6" y="11.4" width="2.2" height="2"></rect><rect x="7.9" y="11.4" width="2.2" height="2"></rect><rect x="11.2" y="11.4" width="2.2" height="2"></rect></g></svg>
<svg style="position:absolute;left:1293.4px;top:285.3px;" width="6.8" height="3.8" viewBox="0 0 6.8 3.8"><path d="M0 0H6.8L3.4 3.8Z" fill="#f0fafe"></path></svg>
<svg style="position:absolute;left:0;top:0" width="1920" height="1080" viewBox="0 0 1920 1080" font-size="11.9" fill="#585858"><text x="330.6" y="375" text-anchor="end">5000</text><text x="330.6" y="398" text-anchor="end">4500</text><text x="330.6" y="420" text-anchor="end">4000</text><text x="330.6" y="443" text-anchor="end">3500</text><text x="330.6" y="465" text-anchor="end">3000</text><text x="330.6" y="488" text-anchor="end">2500</text><text x="330.6" y="510" text-anchor="end">2000</text><text x="330.6" y="533" text-anchor="end">1500</text><text x="330.6" y="555" text-anchor="end">1000</text><text x="330.6" y="578" text-anchor="end">500</text><text x="341.3" y="593" text-anchor="middle">January</text><text x="426.8" y="593" text-anchor="middle">February</text><text x="512.3" y="593" text-anchor="middle">March</text><text x="597.8" y="593" text-anchor="middle">April</text><text x="683.3" y="593" text-anchor="middle">May</text><text x="768.8" y="593" text-anchor="middle">June</text><text x="854.4" y="593" text-anchor="middle">July</text><text x="939.9" y="593" text-anchor="middle">August</text><text x="1025.4" y="593" text-anchor="middle">September</text><text x="1110.9" y="593" text-anchor="middle">October</text><text x="1196.4" y="593" text-anchor="middle">November</text><text x="1281.9" y="593" text-anchor="middle">December</text><g fill="none" stroke-width="1" shape-rendering="crispEdges"><path d="M331 371.5H1281.6" stroke="rgba(0,0,0,0.1)"></path><path d="M331 394.5H1281.6" stroke="rgba(0,0,0,0.1)"></path><path d="M331 416.5H1281.6" stroke="rgba(0,0,0,0.1)"></path><path d="M331 439.5H1281.6" stroke="rgba(0,0,0,0.1)"></path><path d="M331 461.5H1281.6" stroke="rgba(0,0,0,0.1)"></path><path d="M331 484.5H1281.6" stroke="rgba(0,0,0,0.1)"></path><path d="M331 507.5H1281.6" stroke="rgba(0,0,0,0.1)"></path><path d="M331 529.5H1281.6" stroke="rgba(0,0,0,0.1)"></path><path d="M331 552.5H1281.6" stroke="rgba(0,0,0,0.1)"></path><path d="M331 574.5H1281.6" stroke="rgba(0,0,0,0.17)"></path><path d="M341.5 371.0V584.4" stroke="rgba(0,0,0,0.27)"></path><path d="M427.5 371.0V584.4" stroke="rgba(0,0,0,0.1)"></path><path d="M512.5 371.0V584.4" stroke="rgba(0,0,0,0.1)"></path><path d="M598.5 371.0V584.4" stroke="rgba(0,0,0,0.1)"></path><path d="M683.5 371.0V584.4" stroke="rgba(0,0,0,0.1)"></path><path d="M769.5 371.0V584.4" stroke="rgba(0,0,0,0.1)"></path><path d="M854.5 371.0V584.4" stroke="rgba(0,0,0,0.1)"></path><path d="M940.5 371.0V584.4" stroke="rgba(0,0,0,0.1)"></path><path d="M1025.5 371.0V584.4" stroke="rgba(0,0,0,0.1)"></path><path d="M1111.5 371.0V584.4" stroke="rgba(0,0,0,0.1)"></path><path d="M1196.5 371.0V584.4" stroke="rgba(0,0,0,0.1)"></path><path d="M1282.5 371.0V584.4" stroke="rgba(0,0,0,0.1)"></path></g><text x="811" y="617" text-anchor="middle">Timeframe (year)</text><text transform="translate(295.6 472.5) rotate(-90)" text-anchor="middle">Value</text><rect x="701" y="348" width="42" height="13.6" fill="#07a1e0"></rect><text x="748" y="358.4">Sales ($)</text><rect x="802.6" y="348" width="42" height="13.6" fill="#32d6c1"></rect><text x="849.6" y="358.4">Orders</text><path d="M341.0 560.0C375.2 561.6 392.3 562.4 426.5 564.0C460.7 565.6 478.0 569.6 512.0 568.0C546.4 566.4 563.2 558.6 597.5 556.0C631.6 553.4 649.0 557.8 683.0 555.0C717.4 552.2 734.2 546.3 768.5 541.9C802.6 537.5 819.9 533.0 854.1 533.0C888.3 533.0 905.5 543.1 939.6 541.9C973.9 540.7 991.3 534.9 1025.1 527.0C1059.7 518.9 1076.5 501.6 1110.6 502.0C1144.9 502.4 1161.4 527.2 1196.1 529.0C1229.9 530.8 1247.4 518.1 1281.6 510.9" fill="none" stroke="#32d6c1" stroke-width="2.05" stroke-linejoin="round"></path><circle cx="341.0" cy="560.0" r="2.9" fill="#32d6c1"></circle><circle cx="426.5" cy="564.0" r="2.9" fill="#32d6c1"></circle><circle cx="512.0" cy="568.0" r="2.9" fill="#32d6c1"></circle><circle cx="597.5" cy="556.0" r="2.9" fill="#32d6c1"></circle><circle cx="683.0" cy="555.0" r="2.9" fill="#32d6c1"></circle><circle cx="768.5" cy="541.9" r="2.9" fill="#32d6c1"></circle><circle cx="854.1" cy="533.0" r="2.9" fill="#32d6c1"></circle><circle cx="939.6" cy="541.9" r="2.9" fill="#32d6c1"></circle><circle cx="1025.1" cy="527.0" r="2.9" fill="#32d6c1"></circle><circle cx="1110.6" cy="502.0" r="2.9" fill="#32d6c1"></circle><circle cx="1196.1" cy="529.0" r="2.9" fill="#32d6c1"></circle><circle cx="1281.6" cy="510.9" r="2.9" fill="#32d6c1"></circle><path d="M341.0 504.8C375.2 515.3 391.5 526.1 426.5 531.0C460.0 535.7 478.0 532.0 512.0 529.0C546.4 526.0 563.5 515.0 597.5 516.0C631.9 517.0 649.7 536.8 683.0 533.8C718.1 530.7 734.4 514.1 768.5 500.8C802.8 487.4 818.9 470.8 854.1 467.0C887.3 463.4 908.7 490.7 939.6 482.2C977.1 471.9 989.4 442.5 1025.1 419.9C1057.8 399.2 1076.4 373.9 1110.6 373.9C1144.8 373.9 1161.9 419.9 1196.1 419.9C1230.3 419.9 1247.4 392.3 1281.6 373.9" fill="none" stroke="#07a1e0" stroke-width="2.05" stroke-linejoin="round"></path><circle cx="341.0" cy="504.8" r="2.9" fill="#07a1e0"></circle><circle cx="426.5" cy="531.0" r="2.9" fill="#07a1e0"></circle><circle cx="512.0" cy="529.0" r="2.9" fill="#07a1e0"></circle><circle cx="597.5" cy="516.0" r="2.9" fill="#07a1e0"></circle><circle cx="683.0" cy="533.8" r="2.9" fill="#07a1e0"></circle><circle cx="768.5" cy="500.8" r="2.9" fill="#07a1e0"></circle><circle cx="854.1" cy="467.0" r="2.9" fill="#07a1e0"></circle><circle cx="939.6" cy="482.2" r="2.9" fill="#07a1e0"></circle><circle cx="1025.1" cy="419.9" r="2.9" fill="#07a1e0"></circle><circle cx="1110.6" cy="373.9" r="2.9" fill="#07a1e0"></circle><circle cx="1196.1" cy="419.9" r="2.9" fill="#07a1e0"></circle><circle cx="1281.6" cy="373.9" r="2.9" fill="#07a1e0"></circle></svg>
<div class="" style="position:absolute;left:1355px;top:251px;width:529px;height:396px;background:#fff;border-radius:4px;box-shadow:0 1px 2px rgba(0,0,0,0.07),0 0 1px rgba(0,0,0,0.05);"></div>
<div class="t" style="left: 1380px; top: 282px; font-size: 16.4px; line-height: 25px; color: rgb(10, 156, 216); font-weight: 400; -webkit-text-stroke: 0.15px rgb(255, 255, 255); transform: scaleX(1.014);">TRAFFIC SOURCES</div>
<div class="" style="position:absolute;left:1380px;top:313px;width:479px;height:1px;background:#e5e6e7;"></div>
<div class="" style="position:absolute;left:1806.5px;top:269px;width:52.5px;height:37px;background:#09a5e1;border-radius:4px;"></div>
<svg style="position:absolute;left:1816.9px;top:276.7px;" width="18" height="18" viewBox="0 0 18 18"><g fill="none" stroke="#eef9fe" stroke-width="1.7" stroke-linecap="round" stroke-linejoin="round"><rect x="1.9" y="3.2" width="14.2" height="12.9" rx="2.4"></rect></g><g fill="#eef9fe" stroke="none"><path d="M1.9 6.4V5.4Q1.9 3.2 4.3 3.2H13.7Q16.1 3.2 16.1 5.4V6.4Z"></path><rect x="4.6" y="1" width="1.7" height="3" rx="0.6"></rect><rect x="11.7" y="1" width="1.7" height="3" rx="0.6"></rect><rect x="4.6" y="8.2" width="2.2" height="2"></rect><rect x="7.9" y="8.2" width="2.2" height="2"></rect><rect x="11.2" y="8.2" width="2.2" height="2"></rect><rect x="4.6" y="11.4" width="2.2" height="2"></rect><rect x="7.9" y="11.4" width="2.2" height="2"></rect><rect x="11.2" y="11.4" width="2.2" height="2"></rect></g></svg>
<svg style="position:absolute;left:1840.4px;top:285.3px;" width="6.8" height="3.8" viewBox="0 0 6.8 3.8"><path d="M0 0H6.8L3.4 3.8Z" fill="#f0fafe"></path></svg>
<div class="t" style="left: 1380px; top: 341px; font-size: 12.5px; line-height: 19px; color: rgb(93, 108, 117); font-weight: 400; -webkit-text-stroke-width: 0.2px; letter-spacing: 0.18px; transform: scaleX(1.1);">Your top 5 traffic sources</div>
<svg style="position:absolute;left:0;top:0" width="1920" height="1080" viewBox="0 0 1920 1080"><path d="M1619.30 372.40A110.3 110.3 0 0 1 1699.44 406.91L1690.07 415.78A97.4 97.4 0 0 0 1619.30 385.30Z" fill="#07a3e1" stroke="#fff" stroke-width="2" stroke-linejoin="round"></path><path d="M1699.44 406.91A110.3 110.3 0 0 1 1724.49 449.53L1712.19 453.41A97.4 97.4 0 0 0 1690.07 415.78Z" fill="#32d6c0" stroke="#fff" stroke-width="2" stroke-linejoin="round"></path><path d="M1724.49 449.53A110.3 110.3 0 0 1 1607.58 592.38L1608.95 579.55A97.4 97.4 0 0 0 1712.19 453.41Z" fill="#4f5b60" stroke="#fff" stroke-width="2" stroke-linejoin="round"></path><path d="M1607.58 592.38A110.3 110.3 0 0 1 1509.71 470.21L1522.53 471.67A97.4 97.4 0 0 0 1608.95 579.55Z" fill="#fbcd2f" stroke="#fff" stroke-width="2" stroke-linejoin="round"></path><path d="M1509.71 470.21A110.3 110.3 0 0 1 1619.30 372.40L1619.30 385.30A97.4 97.4 0 0 0 1522.53 471.67Z" fill="#f2385a" stroke="#fff" stroke-width="2" stroke-linejoin="round"></path></svg>
<div class="" style="position:absolute;left:261px;top:683px;width:529px;height:186.5px;background:#54d0f3;border-radius:4px;box-shadow:0 1px 2px rgba(0,0,0,0.07),0 0 1px rgba(0,0,0,0.05);"></div>
<svg style="position:absolute;left:287.5px;top:715px;" width="51" height="44" viewBox="0 0 51 44"><g transform="translate(0 -4.2) scale(2.1)"><path fill="rgba(255,255,255,0.76)" d="M23.953 4.57a10 10 0 01-2.825.775 4.958 4.958 0 002.163-2.723c-.951.555-2.005.959-3.127 1.184a4.92 4.92 0 00-8.384 4.482C7.69 8.095 4.067 6.13 1.64 3.162a4.822 4.822 0 00-.666 2.475c0 1.71.87 3.213 2.188 4.096a4.904 4.904 0 01-2.228-.616v.06a4.923 4.923 0 003.946 4.827 4.996 4.996 0 01-2.212.085 4.936 4.936 0 004.604 3.417 9.867 9.867 0 01-6.102 2.105c-.39 0-.779-.023-1.17-.067a13.995 13.995 0 007.557 2.209c9.053 0 13.998-7.496 13.998-13.985 0-.21 0-.42-.015-.63A9.935 9.935 0 0024 4.59z"></path></g></svg>
<div class="t" style="left: 623px; top: 708px; font-size: 13px; line-height: 20px; color: rgb(255, 255, 255); font-weight: 400; transform: scaleX(0.992);">TWITTER FOLLOWERS</div>
<div class="t" style="left: 631.2px; top: 783px; font-size: 43px; line-height: 52px; color: rgb(255, 255, 255); font-weight: 400; -webkit-text-stroke: 1.1px rgb(84, 208, 243); transform: scaleX(1.02);">65,452</div>
<div class="t" style="left: 703px; top: 835px; font-size: 12.5px; line-height: 19px; color: rgb(255, 255, 255); font-weight: 400; -webkit-text-stroke-width: 0.25px; transform: scaleX(1.069);">+72 Today</div>
<div class="" style="position:absolute;left:808px;top:683px;width:529px;height:186.5px;background:#fff;border-radius:4px;box-shadow:0 1px 2px rgba(0,0,0,0.07),0 0 1px rgba(0,0,0,0.05);"></div>
<svg style="position:absolute;left:832px;top:707.5px;" width="59" height="59" viewBox="0 0 60 60"><circle cx="30" cy="29.8" r="25.70" fill="none" stroke="#fbe44f" stroke-width="7.4"></circle><path d="M30.00 11.60L35.35 22.44L47.31 24.18L38.65 32.61L40.70 44.52L30.00 38.90L19.30 44.52L21.35 32.61L12.69 24.18L24.65 22.44Z" fill="#fbe44f"></path></svg>
<div class="t" style="left: 1253px; top: 708px; font-size: 13px; line-height: 20px; color: rgb(85, 100, 108); font-weight: 400; transform: scaleX(0.976);">REVIEWS</div>
<div class="t" style="left: 1200.4px; top: 783px; font-size: 43px; line-height: 52px; color: rgb(86, 102, 111); font-weight: 400; -webkit-text-stroke: 1.1px rgb(255, 255, 255); transform: scaleX(1.039);">7,842</div>
<div class="t" style="left: 1244px; top: 835px; font-size: 12.5px; line-height: 19px; color: rgb(10, 156, 216); font-weight: 400; -webkit-text-stroke-width: 0.2px; transform: scaleX(1.091);">Read More</div>
<div class="" style="position:absolute;left:1355px;top:683px;width:529px;height:186.5px;background:#f2385a;border-radius:4px;box-shadow:0 1px 2px rgba(0,0,0,0.07),0 0 1px rgba(0,0,0,0.05);"></div>
<svg style="position:absolute;left:1385px;top:717px;" width="48" height="38" viewBox="0 0 48 38"><path fill="rgba(255,255,255,0.76)" d="M1.4 16.3L22.4 1.9Q27.4 -0.6 27.4 4.4V10.8C37.6 11.4 46.6 19.6 47 31Q47.2 35.4 45.6 38C43.6 31 37 25.6 27.4 25V31.6Q27.4 36.6 22.4 34.2L1.4 19.6Q-0.6 18 1.4 16.3Z"></path></svg>
<div class="t" style="left: 1711.3px; top: 708px; font-size: 13px; line-height: 20px; color: rgb(255, 255, 255); font-weight: 400; transform: scaleX(0.991);">PRODUCTS RETURNED</div>
<div class="t" style="left: 1794.6px; top: 783px; font-size: 43px; line-height: 52px; color: rgb(255, 255, 255); font-weight: 400; -webkit-text-stroke: 1.1px rgb(242, 56, 90); transform: scaleX(0.878);">231</div>
<div class="t" style="left: 1795.3px; top: 835px; font-size: 12.5px; line-height: 19px; color: rgb(255, 255, 255); font-weight: 400; -webkit-text-stroke-width: 0.25px; transform: scaleX(1.077);">-4% Today</div>
<div class="" style="position:absolute;left:261px;top:906px;width:392.5px;height:184px;background:#fff;border-radius:4px;box-shadow:0 1px 2px rgba(0,0,0,0.07),0 0 1px rgba(0,0,0,0.05);"></div>
<div class="t" style="left: 286px; top: 937px; font-size: 16.4px; line-height: 25px; color: rgb(10, 156, 216); font-weight: 400; -webkit-text-stroke: 0.15px rgb(255, 255, 255); transform: scaleX(1.056);">TEAM MEMBERS</div>
<div class="" style="position:absolute;left:286px;top:968px;width:343px;height:1px;background:#e5e6e7;"></div>
<svg style="position:absolute;left:285.8px;top:973.8px;" width="48.4" height="48.4" viewBox="0 0 48.4 48.4"><defs><linearGradient id="rgb" x1="0.2" y1="0" x2="0.8" y2="1"><stop offset="0" stop-color="#109fd6"></stop><stop offset="1" stop-color="#2cc6b8"></stop></linearGradient><pattern id="ptb" width="6.11" height="6.11" patternUnits="userSpaceOnUse" patternTransform="translate(4.49 3.10)"><path d="M0.4 4.6C1.2 3.0 3.0 1.6 5.5 1.6C5.9 2.3 5.7 3.1 5.1 3.5C3.6 3.4 1.9 3.8 0.4 4.6Z" fill="#141414" stroke="#141414" stroke-width="0.35"></path></pattern><clipPath id="cpb"><circle cx="24.2" cy="24.2" r="20"></circle></clipPath></defs><circle cx="24.2" cy="24.2" r="23.3" fill="#fff" stroke="url(#rgb)" stroke-width="1.9"></circle><circle cx="24.2" cy="24.2" r="20" fill="#c7c7c7"></circle><rect x="0" y="0" width="48.4" height="48.4" fill="url(#ptb)" clip-path="url(#cpb)"></rect><circle cx="5.9" cy="10.3" r="3.9" fill="#0ba2e6"></circle></svg>
<div class="t" style="left: 346px; top: 978px; font-size: 12.6px; line-height: 19px; color: rgb(90, 105, 114); font-weight: 700; -webkit-text-stroke: 0.4px rgb(255, 255, 255); transform: scaleX(1.069);">Johanna Quinn</div>
<div class="t" style="left: 346px; top: 997px; font-size: 12px; line-height: 18px; color: rgb(138, 151, 158); font-weight: 400; transform: scaleX(1.095);">jquinn897</div>
<svg style="position:absolute;left:285.8px;top:1031.8px;" width="48.4" height="48.4" viewBox="0 0 48.4 48.4"><defs><linearGradient id="rgc" x1="0.2" y1="0" x2="0.8" y2="1"><stop offset="0" stop-color="#109fd6"></stop><stop offset="1" stop-color="#2cc6b8"></stop></linearGradient><pattern id="ptc" width="6.11" height="6.11" patternUnits="userSpaceOnUse" patternTransform="translate(4.49 3.10)"><path d="M0.4 4.6C1.2 3.0 3.0 1.6 5.5 1.6C5.9 2.3 5.7 3.1 5.1 3.5C3.6 3.4 1.9 3.8 0.4 4.6Z" fill="#141414" stroke="#141414" stroke-width="0.35"></path></pattern><clipPath id="cpc"><circle cx="24.2" cy="24.2" r="20"></circle></clipPath></defs><circle cx="24.2" cy="24.2" r="23.3" fill="#fff" stroke="url(#rgc)" stroke-width="1.9"></circle><circle cx="24.2" cy="24.2" r="20" fill="#c7c7c7"></circle><rect x="0" y="0" width="48.4" height="48.4" fill="url(#ptc)" clip-path="url(#cpc)"></rect><circle cx="5.9" cy="10.3" r="3.9" fill="#0ba2e6"></circle></svg>
<div class="t" style="left: 346px; top: 1036px; font-size: 12.6px; line-height: 19px; color: rgb(90, 105, 114); font-weight: 700; -webkit-text-stroke: 0.4px rgb(255, 255, 255); transform: scaleX(1.027);">Teal'c Jaffa</div>
<div class="t" style="left: 346px; top: 1055px; font-size: 12px; line-height: 18px; color: rgb(138, 151, 158); font-weight: 400; transform: scaleX(1.065);">tealc</div>
<div class="" style="position:absolute;left:671.5px;top:906px;width:802.0px;height:184px;background:#fff;border-radius:4px;box-shadow:0 1px 2px rgba(0,0,0,0.07),0 0 1px rgba(0,0,0,0.05);"></div>
<div class="t" style="left: 696.3px; top: 937px; font-size: 16.4px; line-height: 25px; color: rgb(10, 156, 216); font-weight: 400; -webkit-text-stroke: 0.15px rgb(255, 255, 255); transform: scaleX(1.041);">CUSTOMER LOCATION</div>
<div class="" style="position:absolute;left:696px;top:968px;width:753px;height:1px;background:#e5e6e7;"></div>
<div class="" style="position:absolute;left:706.8px;top:1004px;width:19.600000000000023px;height:19.600000000000023px;background:#09a5e1;border-radius:5px;"></div>
<div class="" style="position:absolute;left:712.9px;top:1012.9px;width:5.800000000000068px;height:1.5px;background:#fff;"></div>
<div class="" style="position:absolute;left:715.1px;top:1010.8px;width:1.5px;height:5.800000000000068px;background:#fff;"></div>
<div class="" style="position:absolute;left:706.8px;top:1029.4px;width:19.600000000000023px;height:19.59999999999991px;background:#09a5e1;border-radius:5px;"></div>
<div class="" style="position:absolute;left:713px;top:1038.4px;width:5.600000000000023px;height:1.5px;background:#fff;"></div>
<svg style="position:absolute;left:0;top:0" width="1920" height="1080" viewBox="0 0 1920 1080"><g fill="#f4f3f1" stroke="#dddcd9" stroke-width="0.9" stroke-linejoin="round"><path d="M853.0 1092.0L857.5 1080.0L861.2 1070.0L863.1 1064.4L863.1 1055.0L868.8 1045.0L873.8 1033.8L876.9 1024.4L879.4 1023.1L880.0 1018.1L878.1 1015.0L879.0 1010.0L879.4 1006.2L878.8 1001.9L880.0 1000.2L883.6 1001.6L887.5 1003.1L891.9 1005.0L892.1 1006.6L892.7 1007.6L893.6 1006.6L894.0 1003.0L893.6 998.6L894.4 998.0L904.4 1000.9L914.4 1003.6L924.4 1006.1L934.4 1008.4L944.4 1010.6L954.4 1012.6L964.4 1014.4L974.4 1016.1L984.4 1017.6L994.4 1018.9L1004.4 1020.0L1014.4 1021.0L1024.4 1021.8L1034.4 1022.5L1044.4 1023.0L1054.4 1023.3L1064.4 1023.4L1067.5 1023.4L1080.0 1023.4L1080.4 1021.0L1080.6 1019.4L1083.1 1019.6L1083.4 1023.0L1083.8 1025.0L1087.0 1026.6L1090.0 1027.8L1093.0 1027.0L1096.2 1026.9L1099.0 1028.4L1102.5 1029.4L1106.0 1030.6L1110.0 1031.2L1114.0 1032.0L1118.8 1032.2L1122.6 1031.0L1126.2 1029.8L1123.0 1032.0L1120.0 1033.5L1116.0 1035.4L1112.5 1036.9L1109.0 1040.0L1106.2 1042.5L1103.6 1044.6L1101.9 1046.2L1106.0 1044.6L1110.0 1043.8L1111.2 1045.6L1113.0 1046.4L1115.0 1047.5L1117.0 1046.4L1118.8 1045.0L1122.0 1042.6L1125.0 1040.0L1128.0 1038.0L1131.2 1036.2L1131.9 1037.2L1130.0 1039.6L1128.1 1041.9L1130.0 1043.1L1133.6 1044.6L1137.5 1045.6L1141.0 1044.8L1145.0 1043.8L1148.6 1043.0L1151.9 1041.9L1152.6 1043.4L1153.1 1044.4L1156.0 1043.8L1158.8 1043.8L1159.4 1045.6L1160.0 1046.9L1163.8 1048.1L1160.6 1048.4L1157.5 1048.1L1153.6 1048.6L1150.0 1049.4L1146.0 1050.8L1142.5 1052.5L1140.4 1055.0L1138.8 1057.5L1138.8 1058.8L1136.4 1062.0L1133.8 1065.0L1136.0 1062.4L1138.1 1060.0L1137.4 1065.0L1136.2 1070.0L1136.9 1092.0Z"></path><path d="M1145.6 1092.0L1145.0 1080.0L1145.0 1070.0L1146.0 1065.6L1147.5 1061.2L1150.0 1058.0L1152.5 1055.0L1154.4 1053.2L1156.2 1051.9L1158.8 1051.9L1161.2 1052.5L1163.8 1053.6L1166.2 1055.0L1167.2 1058.0L1167.5 1061.2L1166.2 1066.0L1164.4 1071.2L1165.2 1072.6L1166.2 1072.5L1168.0 1069.6L1170.0 1067.5L1172.0 1069.0L1173.8 1071.2L1175.2 1075.6L1176.2 1080.0L1177.0 1092.0Z"></path><path d="M1198.0 1092.0L1201.2 1080.0L1203.8 1070.0L1208.0 1069.2L1212.5 1068.8L1217.0 1067.8L1221.2 1066.2L1222.9 1063.8L1223.8 1061.2L1221.6 1059.6L1220.6 1058.1L1223.0 1054.0L1226.2 1050.0L1229.2 1047.8L1232.5 1046.2L1236.0 1045.2L1240.0 1044.4L1246.0 1042.8L1252.5 1041.2L1253.4 1039.4L1254.4 1038.1L1256.0 1034.6L1257.5 1031.2L1258.8 1025.0L1260.0 1018.8L1261.0 1016.0L1262.5 1013.8L1265.0 1012.4L1267.5 1011.9L1270.0 1012.6L1272.5 1013.8L1273.8 1018.0L1275.0 1022.5L1277.5 1025.8L1280.0 1028.8L1282.6 1031.0L1285.0 1033.8L1283.4 1036.4L1281.2 1038.8L1278.8 1040.6L1276.2 1042.5L1274.4 1044.4L1272.5 1046.2L1270.0 1048.8L1267.5 1051.2L1266.2 1053.0L1265.0 1055.0L1264.0 1059.0L1263.1 1062.5L1264.2 1065.0L1265.0 1067.5L1267.6 1069.8L1270.0 1071.9L1271.6 1071.6L1272.5 1070.0L1272.0 1068.6L1271.2 1068.1L1272.8 1068.6L1273.4 1070.4L1272.6 1072.6L1270.0 1073.4L1267.0 1072.8L1265.0 1073.8L1262.6 1076.0L1260.0 1078.0L1254.0 1079.4L1247.5 1081.0L1240.0 1092.0Z"></path></g><g fill="none" stroke="#dddcd9" stroke-width="1" stroke-linejoin="round"><path d="M932.5 1008.0L929.6 1019.0L926.2 1031.2L925.0 1037.5"></path><path d="M937.5 1009.1L936.6 1013.0L936.2 1016.9L936.6 1019.0L937.5 1021.2L939.4 1026.0L941.2 1031.2L943.0 1033.6L944.4 1036.2L943.2 1038.6L942.5 1041.2L942.8 1043.6L943.8 1045.6L946.2 1046.2L947.0 1049.0L948.1 1052.5L949.6 1055.0L951.2 1057.5L953.8 1059.0L957.6 1058.4L961.2 1058.5L963.6 1057.4L965.6 1055.6"></path><path d="M965.6 1055.6L964.0 1068.0L962.5 1080.0L961.6 1092.0"></path><path d="M965.6 1055.6L991.0 1058.9L1016.2 1061.2"></path><path d="M1020.0 1021.5L1019.0 1037.0L1018.1 1052.5L1016.2 1061.2L1015.6 1070.0L1015.0 1080.0L1014.6 1092.0"></path><path d="M1018.1 1052.5L1044.0 1054.2L1070.4 1054.8"></path><path d="M1067.5 1023.4L1067.6 1029.0L1068.1 1033.8L1069.2 1044.0L1070.6 1055.0L1070.2 1058.0L1071.0 1061.0L1071.9 1065.0L1072.5 1080.0L1072.8 1092.0"></path><path d="M1101.9 1046.2L1101.6 1050.0L1099.0 1053.6L1097.5 1056.2L1097.4 1060.0L1098.1 1063.8L1099.4 1066.2L1101.2 1068.1L1104.0 1070.4L1106.9 1072.5L1108.8 1074.4L1110.0 1076.2L1110.6 1078.8L1111.6 1084.0L1112.6 1092.0"></path><path d="M1070.2 1078.8L1090.0 1078.9L1110.6 1078.8"></path><path d="M1115.0 1047.5L1120.0 1049.4L1125.0 1050.6L1128.8 1052.0L1132.5 1053.8L1134.6 1056.0L1136.2 1058.8"></path><path d="M915.6 1076.0L927.5 1078.6L945.0 1081.6"></path><path d="M894.4 1072.5L892.5 1080.0L891.0 1092.0"></path><path d="M1240.0 1044.4L1242.6 1052.0L1245.0 1060.0L1246.9 1066.2L1246.4 1070.0L1246.2 1073.8L1246.6 1080.0L1247.0 1092.0"></path><path d="M1252.5 1041.2L1253.0 1047.0L1252.0 1054.0L1250.6 1060.0L1250.0 1065.6"></path><path d="M1254.4 1038.1L1257.0 1046.0L1259.6 1053.0L1261.6 1058.0L1263.1 1062.5"></path><path d="M1246.9 1066.2L1250.0 1065.6L1256.0 1064.2L1263.1 1062.5"></path><path d="M1246.2 1073.8L1252.0 1072.4L1258.8 1070.6L1262.0 1069.0L1264.6 1066.8"></path><path d="M1258.8 1070.6L1259.4 1074.0L1260.0 1077.5"></path><path d="M1252.6 1072.3L1253.0 1076.0L1253.6 1079.4"></path><path d="M1204.6 1075.6L1207.0 1078.2L1223.8 1078.4L1235.0 1078.2L1238.6 1080.4L1240.6 1083.0"></path></g><path d="M876.9 1024.4L878.4 1022.9L880.0 1022.7L881.9 1023.4L883.1 1025.0L883.3 1027.6L883.8 1030.0L885.2 1031.6L887.5 1032.5L890.0 1032.2L892.5 1032.5L896.0 1033.8L900.0 1034.4L904.4 1034.2L908.8 1034.4L913.0 1034.6L917.5 1035.2L921.6 1035.6L924.4 1037.2L926.6 1039.0L928.1 1041.2L926.6 1044.0L925.0 1046.2L922.5 1051.2L919.4 1055.0L921.2 1056.2L919.4 1062.5L915.6 1076.0L863.1 1064.4L862.6 1059.0L863.1 1055.0L865.6 1050.0L868.8 1045.0L873.8 1033.8Z" fill="#09a5e1" stroke="#09a5e1" stroke-width="0.8" stroke-linejoin="round"></path></svg>
<div class="" style="position:absolute;left:1492px;top:906px;width:392px;height:184px;background:linear-gradient(118deg,#08a5e3 0%,#32dac3 100%);border-radius:4px;overflow:hidden;box-shadow:0 1px 2px rgba(0,0,0,0.07),0 0 1px rgba(0,0,0,0.05);"><svg style="position:absolute;left:0;top:0" width="392" height="184" viewBox="0 0 392 184"><path d="M-4.0 158.2C6.8 160.0 12.2 161.1 23.0 162.6C33.0 164.0 38.0 165.5 48.0 165.6C59.2 165.7 64.8 163.9 76.0 163.0C87.4 162.1 93.3 160.4 104.6 161.0C112.9 161.4 116.8 163.9 125.0 165.4C131.8 166.7 135.3 168.9 142.0 168.0C156.5 166.0 163.7 162.3 178.0 158.0C191.8 153.8 198.4 148.3 212.4 146.9C224.3 145.7 231.1 153.6 242.8 151.6C259.3 148.8 266.9 141.7 283.0 135.0C297.9 128.8 305.2 119.7 320.2 119.5C335.1 119.3 342.8 134.3 357.7 134.0C373.1 133.7 380.7 124.4 396.0 118.0L396 190L-4 190Z" fill="rgba(255,255,255,0.72)"></path><path d="M-4.0 158.2C6.8 160.0 12.2 161.1 23.0 162.6C33.0 164.0 38.0 165.5 48.0 165.6C59.2 165.7 64.8 163.9 76.0 163.0C87.4 162.1 93.3 160.4 104.6 161.0C112.9 161.4 116.8 163.9 125.0 165.4C131.8 166.7 135.3 168.9 142.0 168.0C156.5 166.0 163.7 162.3 178.0 158.0C191.8 153.8 198.4 148.3 212.4 146.9C224.3 145.7 231.1 153.6 242.8 151.6C259.3 148.8 266.9 141.7 283.0 135.0C297.9 128.8 305.2 119.7 320.2 119.5C335.1 119.3 342.8 134.3 357.7 134.0C373.1 133.7 380.7 124.4 396.0 118.0" fill="none" stroke="#fff" stroke-width="2.2"></path><path d="M-4.0 174.0C24.8 175.6 39.2 178.2 68.0 178.0C100.0 177.8 116.0 174.8 148.0 173.0C172.0 171.6 184.1 171.9 208.0 170.0C232.1 168.1 244.0 166.0 268.0 163.4C287.9 161.2 297.9 158.3 317.8 157.9C333.9 157.6 341.9 161.2 358.0 161.6C373.2 162.0 380.8 160.6 396.0 160.0L396 190L-4 190Z" fill="rgba(255,255,255,0.55)"></path><path d="M-4.0 174.0C24.8 175.6 39.2 178.2 68.0 178.0C100.0 177.8 116.0 174.8 148.0 173.0C172.0 171.6 184.1 171.9 208.0 170.0C232.1 168.1 244.0 166.0 268.0 163.4C287.9 161.2 297.9 158.3 317.8 157.9C333.9 157.6 341.9 161.2 358.0 161.6C373.2 162.0 380.8 160.6 396.0 160.0" fill="none" stroke="#fff" stroke-width="2.2"></path></svg></div>
<svg style="position:absolute;left:1665px;top:930px;" width="45" height="59" viewBox="0 0 45 59"><g fill="rgba(255,255,255,0.76)"><path d="M0.3 10A22 9.7 0 0 1 44.3 10V17A22 9.7 0 0 1 0.3 17Z"></path><path d="M0.3 20.3A22 9.7 0 0 0 44.3 20.3V27.3A22 9.7 0 0 1 0.3 27.3Z"></path><path d="M0.3 30.6A22 9.7 0 0 0 44.3 30.6V37.9A22 9.7 0 0 1 0.3 37.9Z"></path><path d="M0.3 41.2A22 9.7 0 0 0 44.3 41.2V48.4A22 9.7 0 0 1 0.3 48.4Z"></path></g></svg>
<div class="t" style="left: 1633.3px; top: 992px; font-size: 13px; line-height: 20px; color: rgb(230, 247, 251); font-weight: 400; transform: scaleX(1.021);">DATABASE LOAD</div>
</div>
</body></html>
